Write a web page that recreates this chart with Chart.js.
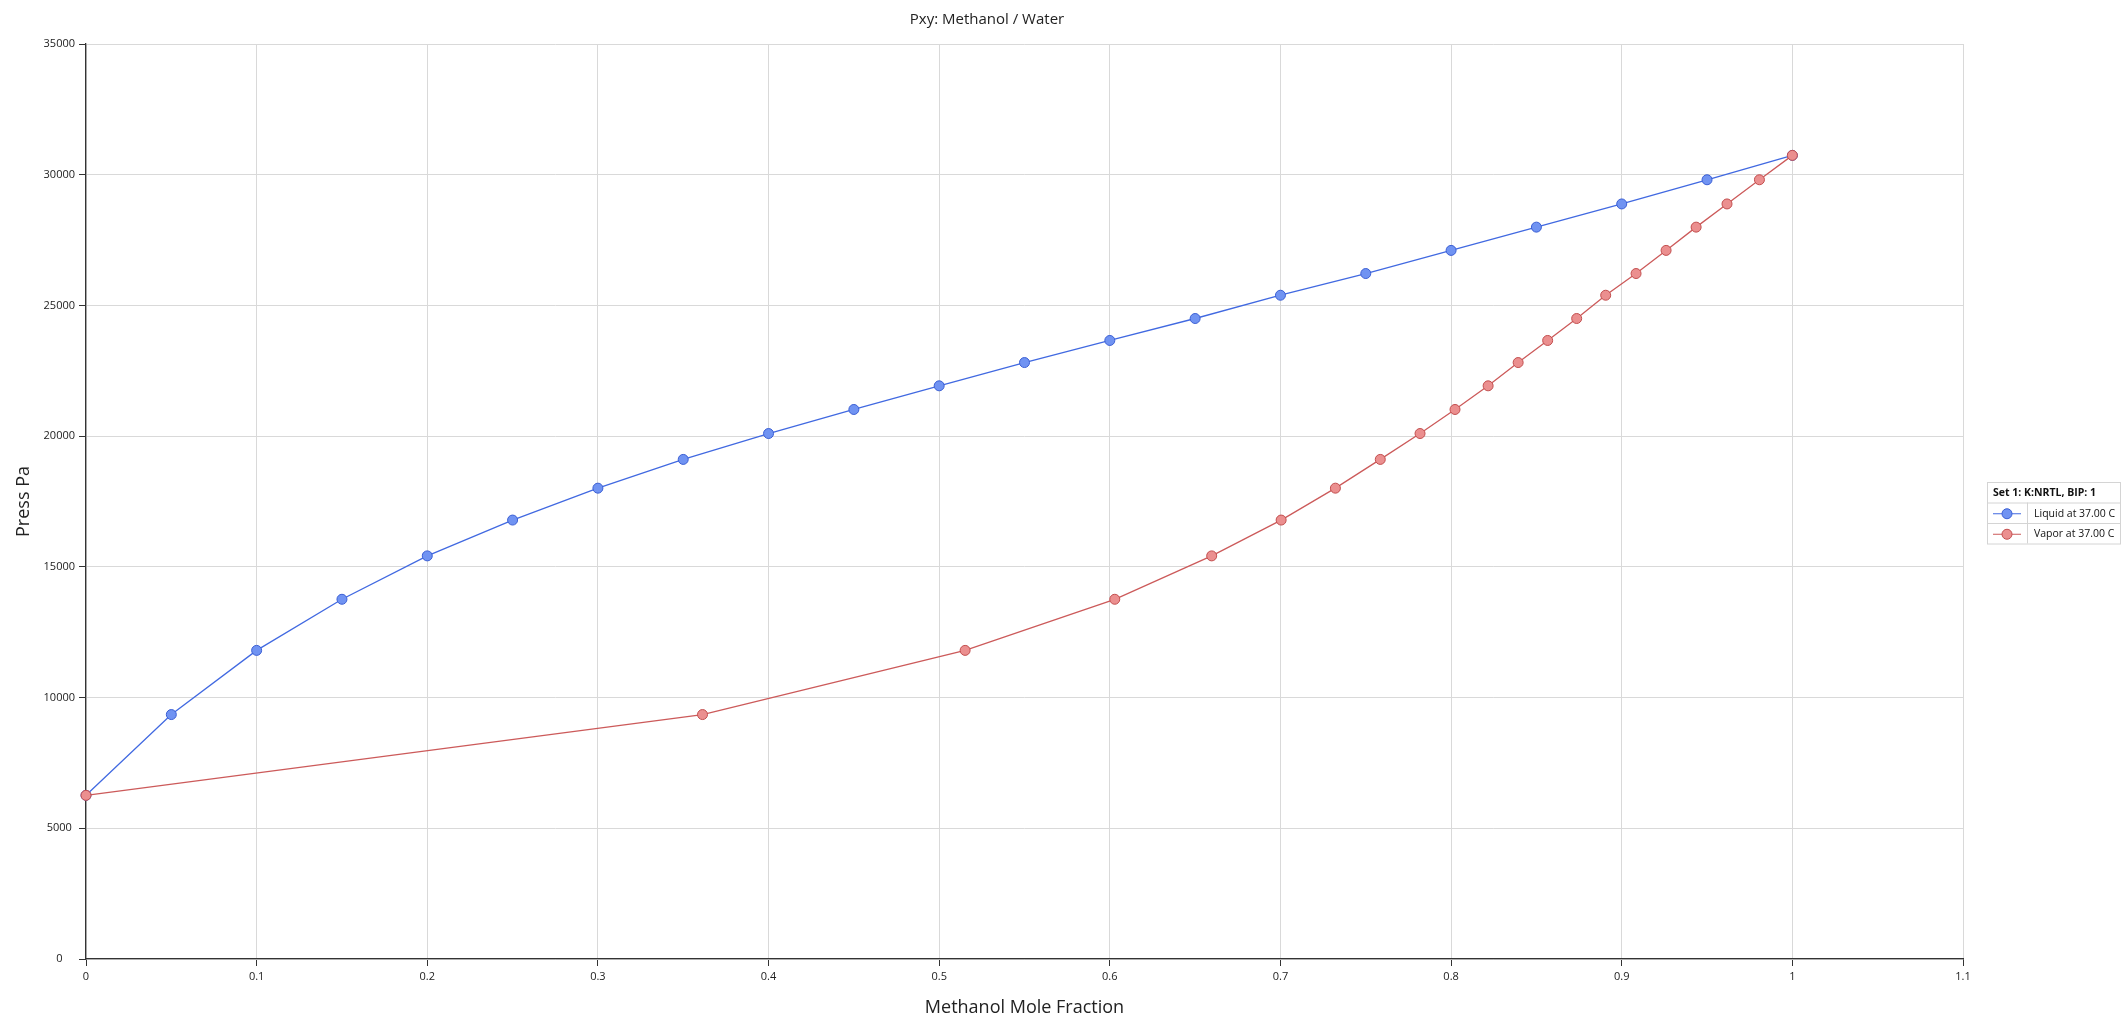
<!DOCTYPE html>
<html>
<head>
<meta charset="utf-8">
<script src="https://cdn.jsdelivr.net/npm/chart.js@4.4.1/dist/chart.umd.min.js"></script>
<style>
  html, body { margin: 0; padding: 0; background: #fff; }
  #wrap { width: 2122px; height: 1024px; position: relative; }
</style>
</head>
<body>
<div id="wrap"><canvas id="pxy"></canvas></div>
<script>
// liquid composition (x) and bubble pressure
const liquidX = [0, 0.05, 0.1, 0.15, 0.2, 0.25, 0.3, 0.35, 0.4, 0.45, 0.5,
   0.55, 0.6, 0.65, 0.7, 0.75, 0.8, 0.85, 0.9, 0.95, 1.0];
const pressure = [6260, 9350, 11805, 13760, 15420, 16790, 18010, 19110, 20100, 21020, 21925,
   22815, 23660, 24500, 25390, 26220, 27105, 27995, 28882, 29807, 30740];
// vapor composition (y) at the same pressures
const vaporX = [0, 0.3613, 0.5152, 0.6029, 0.6597, 0.7004, 0.7322, 0.7585, 0.7818, 0.8023, 0.8217,
   0.8393, 0.8566, 0.8736, 0.8906, 0.9084, 0.9260, 0.9436, 0.9617, 0.9807, 1.0];

const xTicks = [0, 0.1, 0.2, 0.3, 0.4, 0.5, 0.6, 0.7, 0.8, 0.9, 1, 1.1];
const yTicks = [0, 5000, 10000, 15000, 20000, 25000, 30000, 35000];

const chartTitle = 'Pxy: Methanol / Water';
const legendTitle = 'Set 1: K:NRTL, BIP: 1';
const seriesNames = ['Liquid at 37.00 C', 'Vapor at 37.00 C'];

const FONT = '"Open Sans", "Noto Sans", sans-serif';

function pairs(xs, ys) {
   return xs.map((x, i) => ({x: x, y: ys[i]}));
}

// title + boxed legend, drawn by hand like the original app
const decor = {
   id: 'decor',
   afterDraw(chart) {
      const ctx = chart.ctx;
      ctx.save();
      ctx.fillStyle = '#222';
      ctx.font = '15px ' + FONT;
      ctx.textAlign = 'center';
      ctx.textBaseline = 'middle';
      ctx.fillText(chartTitle, 987, 20);

      // legend box
      const L = 1987, R = 2120, T = 482, rowH = 20.5, sep = 2027;
      ctx.strokeStyle = '#d4d4d4';
      ctx.lineWidth = 1;
      ctx.strokeRect(L + 0.5, T + 0.5, R - L, rowH * 3);
      ctx.beginPath();
      ctx.moveTo(L, T + rowH + 0.5); ctx.lineTo(R, T + rowH + 0.5);
      ctx.moveTo(L, T + rowH * 2 + 0.5); ctx.lineTo(R, T + rowH * 2 + 0.5);
      ctx.moveTo(sep + 0.5, T + rowH); ctx.lineTo(sep + 0.5, T + rowH * 3);
      ctx.stroke();

      ctx.textAlign = 'left';
      ctx.fillStyle = '#111';
      ctx.font = 'bold 10.5px ' + FONT;
      ctx.fillText(legendTitle, L + 6, T + rowH / 2 + 1);

      ctx.font = '10.5px ' + FONT;
      chart.data.datasets.forEach((ds, i) => {
         const cy = T + rowH * (i + 1.5) + 1;
         ctx.strokeStyle = ds.borderColor;
         ctx.beginPath();
         ctx.moveTo(L + 6, cy); ctx.lineTo(L + 34, cy);
         ctx.stroke();
         ctx.beginPath();
         ctx.arc(L + 20, cy, 5, 0, Math.PI * 2);
         ctx.fillStyle = ds.pointBackgroundColor;
         ctx.fill();
         ctx.strokeStyle = ds.pointBorderColor;
         ctx.stroke();
         ctx.fillStyle = '#111';
         ctx.fillText(ds.label, sep + 7, cy);
      });
      ctx.restore();
   }
};

const chart = new Chart(document.getElementById('pxy'), {
   type: 'scatter',
   data: {
      datasets: [{
         label: seriesNames[0],
         data: pairs(liquidX, pressure),
         showLine: true,
         clip: false,
         order: 2,
         borderColor: '#4169e1',
         borderWidth: 1.3,
         pointBackgroundColor: '#7093f2',
         pointBorderColor: '#3b5fd4',
         pointBorderWidth: 1,
         pointRadius: 5,
         tension: 0
      }, {
         label: seriesNames[1],
         data: pairs(vaporX, pressure),
         showLine: true,
         clip: false,
         order: 1,   // vapour drawn on top at the end points
         borderColor: '#cc5a5a',
         borderWidth: 1.3,
         pointBackgroundColor: '#eb8f8f',
         pointBorderColor: '#c24e4e',
         pointBorderWidth: 1,
         pointRadius: 5,
         tension: 0
      }]
   },
   options: {
      responsive: true,
      maintainAspectRatio: false,
      animation: false,
      layout: { padding: { left: 0, top: 44, right: 159, bottom: 0 } },
      plugins: {
         legend: { display: false },
         title: { display: false },
         tooltip: { enabled: false }
      },
      scales: {
         x: {
            type: 'linear',
            min: 0,
            max: 1.1,
            afterBuildTicks: (s) => { s.ticks = xTicks.map(v => ({value: v})); },
            afterFit: (s) => { s.height = 65; },
            grid: { color: '#d9d9d9', tickColor: '#333', tickLength: 7, lineWidth: 1 },
            border: { color: '#333', width: 1.3 },
            ticks: {
               color: '#222',
               padding: 4,
               maxRotation: 0,
               font: { family: FONT, size: 11 },
               callback: (v) => String(+v.toFixed(2))
            },
            title: {
               display: true,
               text: 'Methanol Mole Fraction',
               color: '#222',
               font: { family: FONT, size: 18 },
               padding: { top: 5, bottom: 5 }
            }
         },
         y: {
            type: 'linear',
            min: 0,
            max: 35000,
            afterBuildTicks: (s) => { s.ticks = yTicks.map(v => ({value: v})); },
            afterFit: (s) => { s.width = 86; },
            grid: { color: '#d9d9d9', tickColor: '#333', tickLength: 7, lineWidth: 1 },
            border: { color: '#333', width: 1.3 },
            ticks: {
               color: '#222',
               padding: 4,
               crossAlign: 'center',
               font: { family: FONT, size: 11 },
               callback: (v) => String(v)
            },
            title: {
               display: true,
               text: 'Press Pa',
               color: '#222',
               font: { family: FONT, size: 18 },
               padding: { top: 13, bottom: 0 }
            }
         }
      }
   },
   plugins: [decor]
});
</script>
</body>
</html>
